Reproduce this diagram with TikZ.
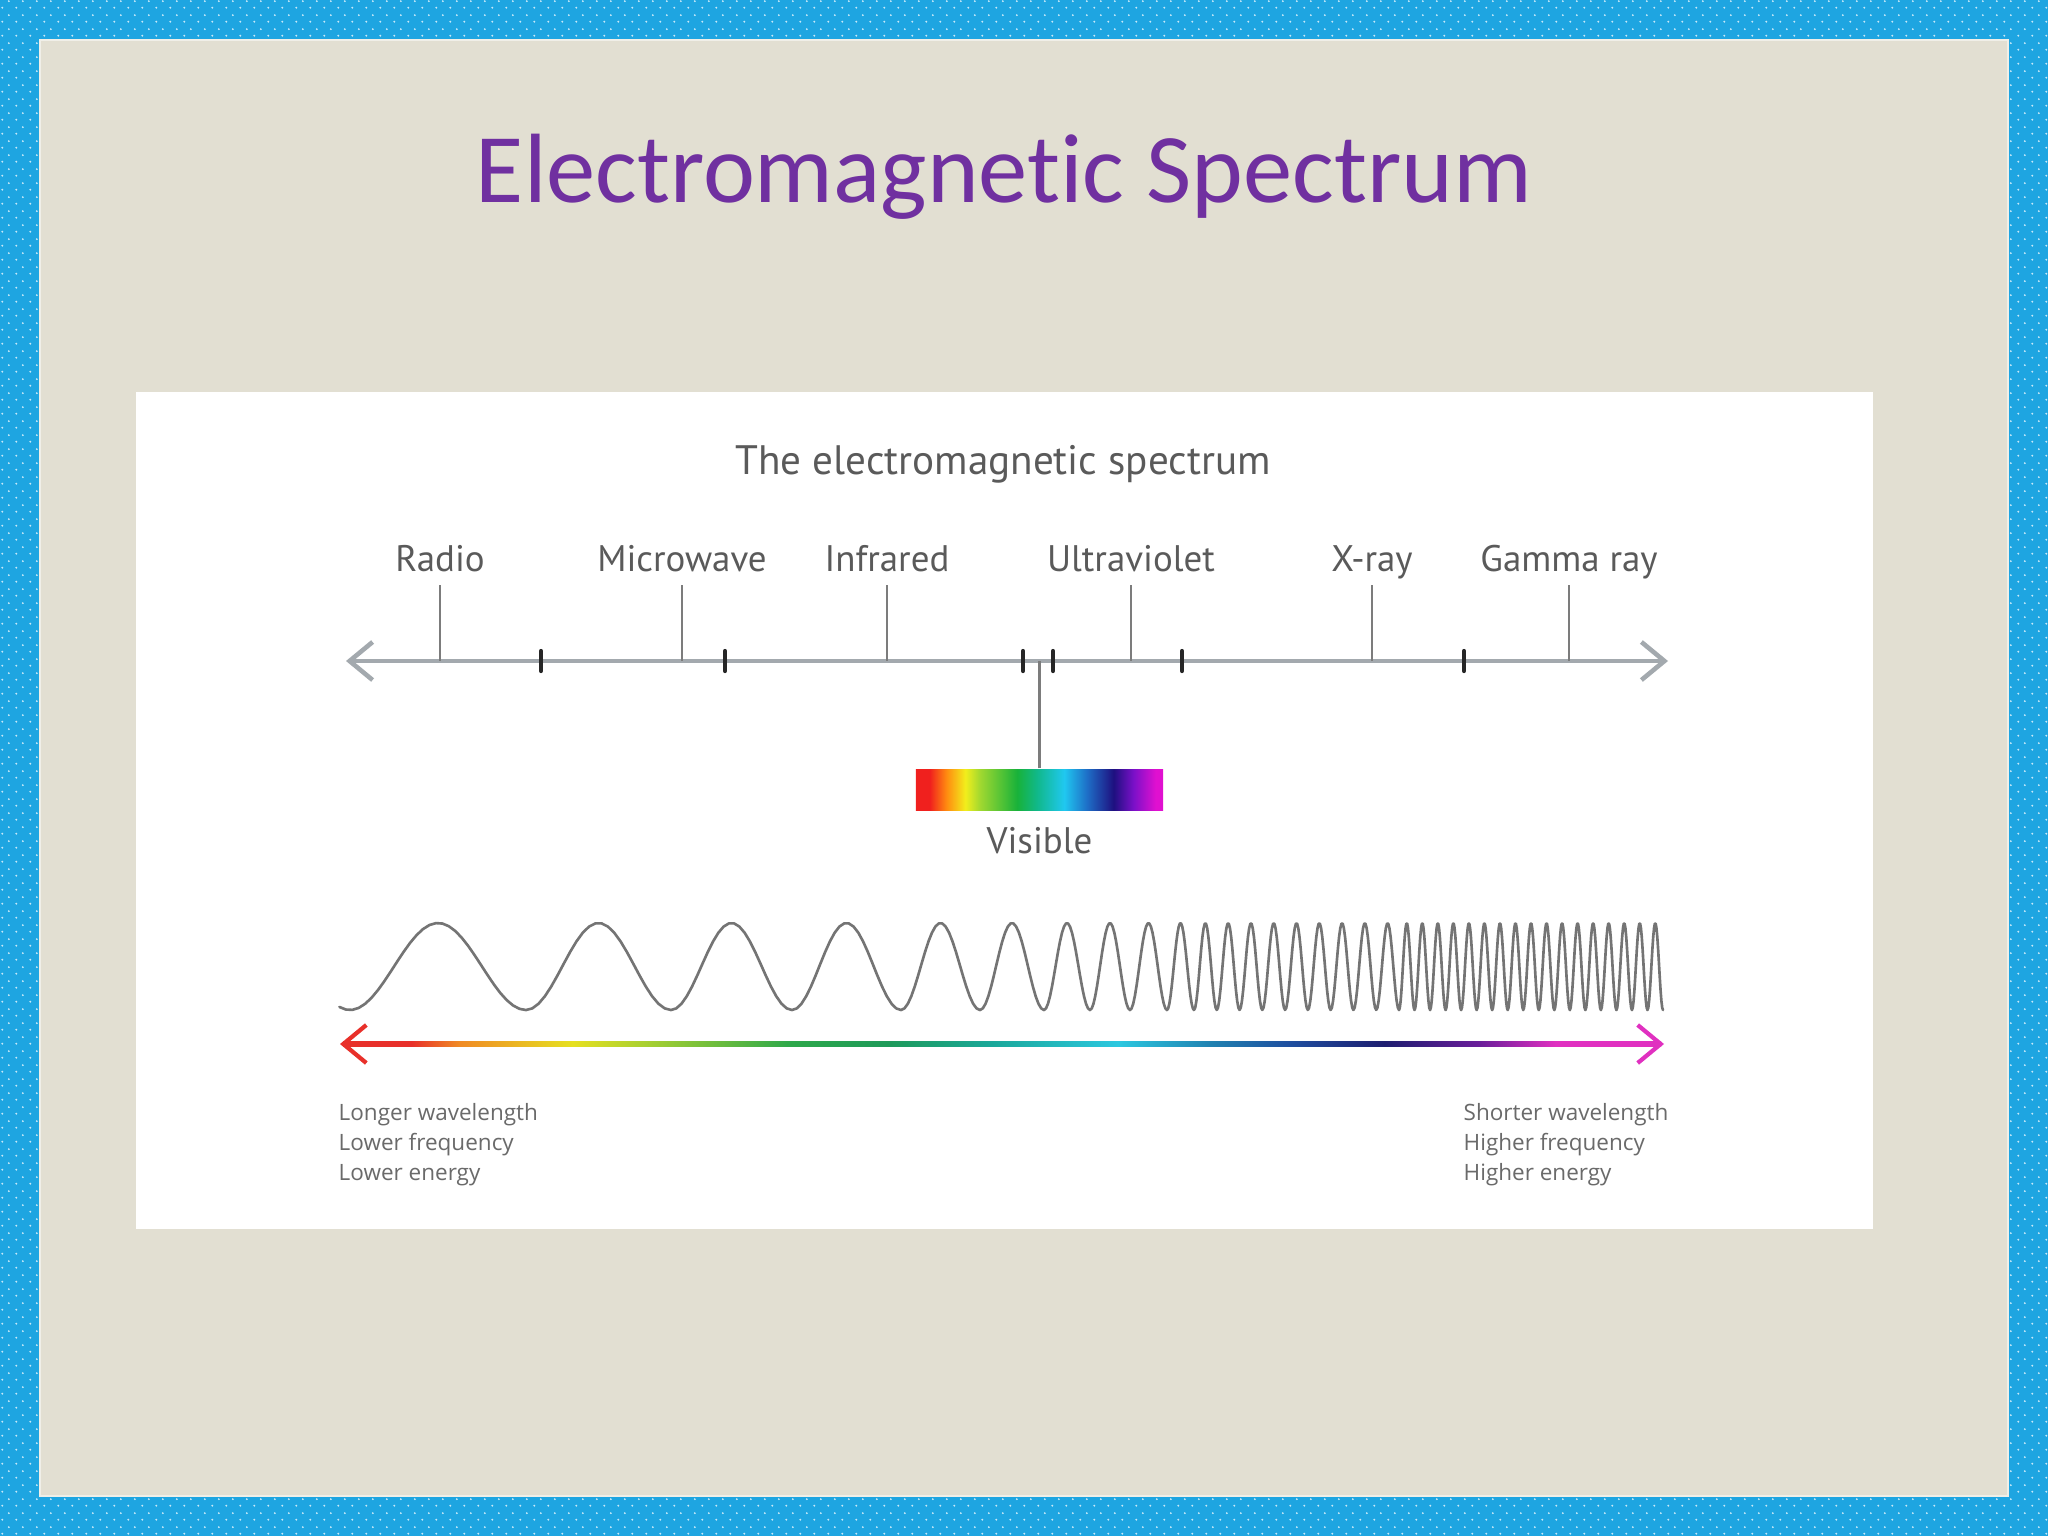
\documentclass[tikz,border=0pt]{standalone}
\usepackage{fontspec}
\usepackage{xcolor}
\usepackage{tikz}
\usetikzlibrary{arrows.meta,positioning,patterns}

\newfontfamily\titlefont[Ligatures=NoCommon]{Carlito}
\newfontfamily\labfont{PT Sans}
\newfontfamily\notefont{Open Sans}

\definecolor{frameblue}{HTML}{1EA5E1}
\definecolor{panelbeige}{HTML}{E2DFD2}
\definecolor{titlepurple}{HTML}{7030A0}
\definecolor{axisgray}{HTML}{A3A9AE}
\definecolor{labgray}{HTML}{5A5A5A}
\definecolor{stemgray}{HTML}{7C7C7C}
\definecolor{wavegray}{HTML}{747474}
\definecolor{notegray}{HTML}{6A6A6A}
% visible bar
\definecolor{vsA}{HTML}{F0201E}
\definecolor{vsB}{HTML}{FF8C10}
\definecolor{vsC}{HTML}{F2EE1C}
\definecolor{vsD}{HTML}{A0D830}
\definecolor{vsE}{HTML}{18B23A}
\definecolor{vsF}{HTML}{10B88A}
\definecolor{vsG}{HTML}{20C8F0}
\definecolor{vsH}{HTML}{1E70C8}
\definecolor{vsI}{HTML}{1E1080}
\definecolor{vsJ}{HTML}{7A10C8}
\definecolor{vsK}{HTML}{E010D0}
% long arrow
\definecolor{spRed}{HTML}{E8302A}
\definecolor{spOrange}{HTML}{F08A24}
\definecolor{spYellow}{HTML}{E6E020}
\definecolor{spLime}{HTML}{A8D030}
\definecolor{spGreen}{HTML}{2DA84A}
\definecolor{spGreenB}{HTML}{1E9A5A}
\definecolor{spTeal}{HTML}{1AA89A}
\definecolor{spCyan}{HTML}{2CC8E0}
\definecolor{spSea}{HTML}{2080B0}
\definecolor{spBlue}{HTML}{1F4FA0}
\definecolor{spNavy}{HTML}{1E1E70}
\definecolor{spPurple}{HTML}{6A1E9A}
\definecolor{spMagenta}{HTML}{E030C0}

\pgfdeclarepatternformonly{framedots}{\pgfpointorigin}{\pgfpoint{0.14cm}{0.14cm}}{\pgfpoint{0.14cm}{0.14cm}}{%
  \pgfpathcircle{\pgfpoint{0.035cm}{0.035cm}}{0.011cm}%
  \pgfpathcircle{\pgfpoint{0.105cm}{0.105cm}}{0.011cm}%
  \pgfusepath{fill}}

\pgfdeclarehorizontalshading{visspec}{100bp}{color(0bp)=(vsA); color(25bp)=(vsA);
  color(27.8bp)=(vsA); color(31.2bp)=(vsB); color(35bp)=(vsC); color(38bp)=(vsD);
  color(45.5bp)=(vsE); color(49.5bp)=(vsF); color(55bp)=(vsG); color(59.5bp)=(vsH);
  color(65bp)=(vsI); color(69bp)=(vsJ); color(73.5bp)=(vsK); color(75bp)=(vsK);
  color(100bp)=(vsK)}

\pgfdeclarehorizontalshading{specrun}{100bp}{color(0bp)=(spRed); color(25bp)=(spRed);
  color(27.6bp)=(spRed); color(29.4bp)=(spOrange); color(33.7bp)=(spYellow);
  color(36.5bp)=(spLime); color(42bp)=(spGreen); color(45.7bp)=(spGreenB);
  color(49.6bp)=(spTeal); color(54.4bp)=(spCyan); color(58bp)=(spSea);
  color(60.9bp)=(spBlue); color(64.5bp)=(spNavy); color(68.1bp)=(spPurple);
  color(71bp)=(spMagenta); color(75bp)=(spMagenta); color(100bp)=(spMagenta)}

\begin{document}
\begin{tikzpicture}[
  x=0.01cm, y=-0.01cm,
  titletext/.style={font=\titlefont\fontsize{28}{32}\selectfont, text=titlepurple,
    inner sep=0pt, anchor=base},
  heading/.style={font=\labfont\fontsize{11.7}{14}\selectfont, text=labgray,
    inner sep=0pt, anchor=base},
  band/.style={font=\labfont\fontsize{10.5}{13}\selectfont, text=labgray,
    inner sep=1pt, text depth=0.25em, anchor=south},
  stem/.style={stemgray, line width=0.6pt},
  axis/.style={axisgray, line width=1.3pt,
    {Straight Barb[length=2.3mm, width=3.8mm]}-{Straight Barb[length=2.3mm, width=3.8mm]}},
  tick/.style={black!85, line width=1.2pt, line cap=round},
  visbar/.style={minimum width=2.47cm, minimum height=0.41cm, inner sep=0pt,
    shading=visspec},
  wave/.style={wavegray, line width=0.75pt, line join=round, line cap=round},
  tipline/.style={line width=1.2pt, {Straight Barb[length=2.3mm, width=3.8mm]}-},
  note/.style={font=\notefont\fontsize{6.4}{8.5}\selectfont, text=notegray,
    inner sep=0pt, align=left, anchor=north west},
]
\useasboundingbox (0,0) rectangle (2048,1536);

% slide frame
\fill[frameblue] (0,0) rectangle (2048,1536);
\fill[pattern=framedots, pattern color=white!75!frameblue] (0,0) rectangle (2048,1536);
\filldraw[fill=panelbeige, draw=panelbeige!50!white, line width=0.4pt] (40,40) rectangle (2008,1496);
\fill[white] (136,392) rectangle (1873,1229);

\node[titletext] (title) at (1004,202) {Electromagnetic Spectrum};
\node[heading] (head) at (1003,474) {The electromagnetic spectrum};

% spectrum axis
\coordinate (axL) at (346,661);
\coordinate (axR) at (1668,661);
\draw[axis] (axL) -- (axR);
\foreach \x in {541,725,1023,1053,1182,1464}
  \draw[tick] (\x,651) -- (\x,671);

\node[band] (radio) at (440,585)  {Radio};
\node[band] (micro) at (682,585)  {Microwave};
\node[band] (infra) at (887,585)  {Infrared};
\node[band] (uv)    at (1131,585) {Ultraviolet};
\node[band] (xray)  at (1372,585) {X-ray};
\node[band] (gamma) at (1569,585) {Gamma ray};
\foreach \n in {radio,micro,infra,uv,xray,gamma}
  \draw[stem] (\n.south) -- (\n.south |- axL);

\node[visbar] (vis) at (1039.5,789.5) {};
\node[band, anchor=north, text depth=0pt, below=1.2mm of vis] (vislbl) {Visible};
\draw[stem] (vis.north) -- (vis.north |- axL);

% wave, frequency rising to the right
\draw[wave] plot[domain=-0.06:1, samples=30, variable=\t] ({350+176*\t},{966.5+43.5*cos(360*\t)})
  foreach \a/\p in {526/145,671/121,792/109,901/79,980/64,1044/46,1090/40,1130/37,1167/27}
  { -- plot[domain=0:1, samples=24, variable=\t] ({\a+\p*\t},{966.5+43.5*cos(360*\t)}) }
  foreach \k in {0,...,8}
  { -- plot[domain=0:1, samples=20, variable=\t] ({1194+22.78*(\k+\t)},{966.5+43.5*cos(360*\t)}) }
  foreach \k in {0,...,16}
  { -- plot[domain=0:1, samples=20, variable=\t] ({1399+15.53*(\k+\t)},{966.5+43.5*cos(360*\t)}) };

% coloured wavelength arrow
\coordinate (lowend) at (340,1044);
\coordinate (highend) at (1664,1044);
\path[shading=specrun] ([shift={(3,-2.2)}]lowend) rectangle ([shift={(-3,2.2)}]highend);
\draw[tipline, spRed] (lowend) -- ([shift={(30,0)}]lowend);
\draw[tipline, spMagenta] (highend) -- ([shift={(-30,0)}]highend);

\node[note] (lownote) at (338,1103) {Longer wavelength\\Lower frequency\\Lower energy};
\node[note] (highnote) at (1463,1103) {Shorter wavelength\\Higher frequency\\Higher energy};
\end{tikzpicture}
\end{document}
